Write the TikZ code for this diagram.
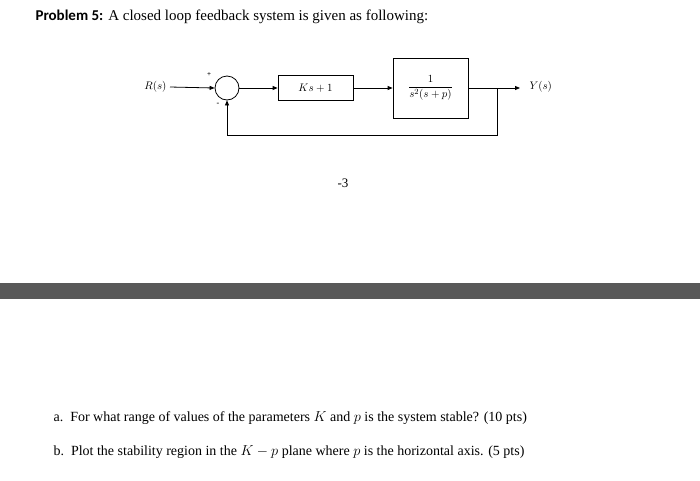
\documentclass[tikz,border=0pt]{standalone}
\usepackage{amsmath}
\usepackage{fontspec}
\setmainfont{Liberation Serif}
\newfontfamily\carlitofont{Carlito}
\usetikzlibrary{arrows.meta}
\begin{document}
\begin{tikzpicture}[x=1pt,y=-1pt,
  blk/.style={draw,line width=0.8pt,inner sep=0pt},
  ln/.style={line width=0.8pt},
  ar/.style={ln,-{Triangle[length=5pt,width=4pt]}},
  lab/.style={font=\fontsize{11}{13}\selectfont}]
\useasboundingbox (0,0) rectangle (700,480);
\node[anchor=west,font=\fontsize{15}{18}\selectfont] (title) at (32,17) {{\carlitofont\bfseries Problem 5:} A closed loop feedback system is given as following:};
\node[lab,anchor=east] (r) at (170,87) {$R(s)$};
\node[draw,circle,minimum size=24pt,inner sep=0pt,line width=0.8pt] (c) at (227,88) {};
\node[blk,minimum width=75pt,minimum height=25pt,lab] (b1) at (315.5,88) {$Ks+1$};
\node[blk,minimum width=75pt,minimum height=60pt,lab] (b2) at (430.5,88) {$\dfrac{1}{s^2(s+p)}$};
\coordinate (y) at (520,88);
\node[lab,anchor=west] (yl) at (526,87) {$Y(s)$};
\coordinate (br) at (497,88);
\coordinate (fb) at (497,135);
\coordinate (fb2) at (227,135);
\draw[ar] (r.east) -- (c.west);
\draw[ar] (c.east) -- (b1.west);
\draw[ar] (b1.east) -- (b2.west);
\draw[ar] (b2.east) -- (y);
\draw[ar] (br) -- (fb) -- (fb2) -- (c.south);
\node[font=\fontsize{7}{8}\selectfont\bfseries] (plus) at (209,75) {+};
\node[font=\fontsize{8}{8}\selectfont\bfseries] (minus) at (218,104) {-};
\node[font=\fontsize{13}{15}\selectfont] (m3) at (343,183) {-3};
\fill[black!65] (0,283) rectangle (700,299);
\node[anchor=west,font=\fontsize{14}{17}\selectfont] (qa) at (50,418) {a.\ \ For what range of values of the parameters $K$ and $p$ is the system stable? (10 pts)};
\node[anchor=west,font=\fontsize{14}{17}\selectfont] (qb) at (50,452) {b.\ \ Plot the stability region in the $K-p$ plane where $p$ is the horizontal axis. (5 pts)};
\end{tikzpicture}
\end{document}
